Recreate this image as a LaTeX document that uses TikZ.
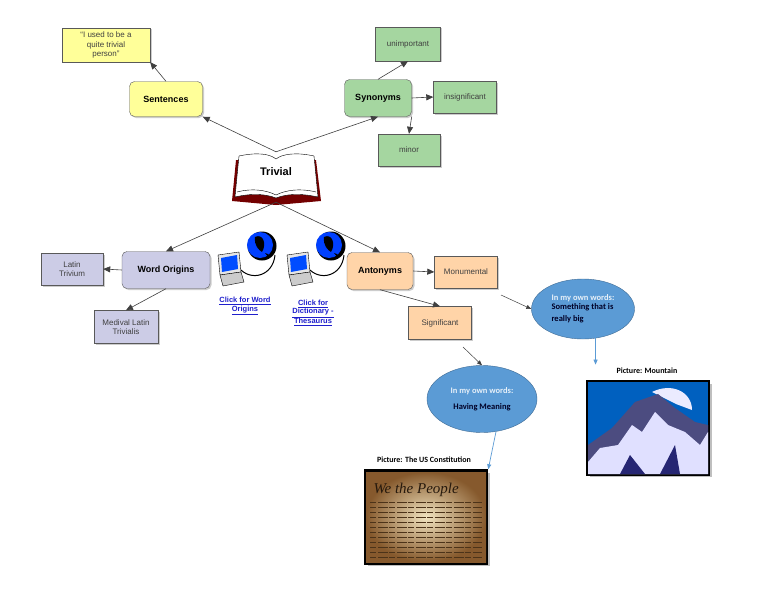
\documentclass[tikz,border=0pt]{standalone}
\usepackage{fontspec}
\setmainfont{Liberation Sans}
\newfontfamily\carl{Carlito}
\newfontfamily\serifit{Liberation Serif}
\usetikzlibrary{shapes.geometric,arrows.meta,shadows}
\definecolor{yel}{HTML}{FFFF99}
\definecolor{grn}{HTML}{A5D6A0}
\definecolor{pur}{HTML}{CCCCE6}
\definecolor{ora}{HTML}{FFD4A8}
\definecolor{ell}{HTML}{5B9BD5}
\definecolor{lnk}{HTML}{1F1FCC}
\begin{document}
\begin{tikzpicture}[x=1pt,y=-1pt,
 box/.style={draw=gray!70!black,fill=#1,drop shadow={shadow xshift=1.5pt,shadow yshift=-1.5pt,opacity=.4},font=\fontsize{8}{9.5}\selectfont,text=black!75,align=center,inner sep=2pt},
 main/.style={box=#1,rounded corners=5pt,font=\bfseries\fontsize{9}{10.5}\selectfont,text=black},
 arr/.style={draw=gray!50!black,-{Triangle[length=7pt,width=6pt]},line width=0.6pt},
 barr/.style={draw=ell,-{Triangle[length=5pt,width=4pt]},line width=0.7pt},
 oval/.style={ellipse,fill=ell,draw=ell!70!black,inner sep=0pt},
 lk/.style={font=\bfseries\fontsize{7.5}{8.5}\selectfont,text=lnk,align=center,inner sep=1pt}]
\useasboundingbox (0,0) rectangle (768,594);
\fill[white] (0,0) rectangle (768,594);
% nodes
\node[box=yel,minimum width=88pt,minimum height=34pt] (q) at (106,45) {``I used to be a\\quite trivial\\person''};
\node[main=yel,minimum width=73pt,minimum height=35pt] (sen) at (166,99) {Sentences};
\node[main=grn,minimum width=67pt,minimum height=37pt] (syn) at (378,98) {Synonyms};
\node[box=grn,minimum width=65pt,minimum height=34pt] (uni) at (408,44) {unimportant};
\node[box=grn,minimum width=63pt,minimum height=32pt] (ins) at (465,97) {insignificant};
\node[box=grn,minimum width=62pt,minimum height=32pt] (min) at (409,150) {minor};
% book
\node[minimum width=88pt,minimum height=50pt] (tr) at (276,177) {};
\begin{scope}
\fill[red!45!black] (232,201) -- (236,160) -- (276,163) -- (316,160) -- (321,201) -- (276,205) -- cycle;
\draw[fill=white] (235,197) -- (239,156) .. controls (258,152) and (270,154) .. (276,159) .. controls (282,154) and (296,152) .. (314,156) -- (318,197) .. controls (300,193) and (286,194) .. (276,198) .. controls (266,194) and (252,193) .. (235,197) -- cycle;
\draw (237,192) .. controls (252,188) and (266,190) .. (276,195) .. controls (286,190) and (300,188) .. (316,192);
\end{scope}
\node[font=\bfseries\fontsize{11}{12}\selectfont] at (276,172) {Trivial};
\node[main=pur,minimum width=88pt,minimum height=37pt] (wo) at (166,270) {Word Origins};
\node[box=pur,minimum width=62pt,minimum height=32pt] (lt) at (72,269) {Latin\\Trivium};
\node[box=pur,minimum width=64pt,minimum height=33pt] (ml) at (126,327) {Medival Latin\\Trivialis};
\node[main=ora,minimum width=66pt,minimum height=37pt] (ant) at (380,271) {Antonyms};
\node[box=ora,minimum width=63pt,minimum height=32pt] (mon) at (466,272) {Monumental};
\node[box=ora,minimum width=63pt,minimum height=33pt] (sig) at (440,323) {Significant};
% icons
\foreach \cx in {245,314}{
 \begin{scope}[shift={(\cx,0)}]
 \draw[black,line width=1pt] (-6,268) .. controls (6,282) and (28,276) .. (30,255);
 \fill[black] (17,246) circle (14.5);
 \fill[blue!75!cyan] (15,245) circle (13);
 \fill[black] (10,237) .. controls (18,233) and (22,244) .. (17,252) .. controls (14,250) and (9,246) .. (10,237);
 \fill[black] (20,253) .. controls (24,254) and (26,256) .. (24,258) -- cycle;
 \draw[fill=gray!20] (-27,255) -- (-6,252) -- (-4,272) -- (-25,275) -- cycle;
 \fill[blue!70!cyan] (-24,258) -- (-8,255) -- (-7,269) -- (-23,272) -- cycle;
 \draw[fill=gray!40] (-25,275) -- (-4,272) -- (-1,282) -- (-22,286) -- cycle;
 \end{scope}}
\node[lk] (l1) at (245,306) {\underline{Click for Word}\\\underline{Origins}};
\node[lk] (l2) at (313,313) {\underline{Click for}\\\underline{Dictionary -}\\\underline{Thesaurus}};
% ellipses
\node[oval,minimum width=103pt,minimum height=60pt,font=\carl\bfseries\fontsize{8.5}{10}\selectfont,align=left] (e1) at (583,309) {\textcolor{white!85!ell}{In my own words:}\\[-1pt]\textcolor{black!85!blue}{Something that is}\\[2pt]\textcolor{black!85!blue}{really big}};
\node[oval,minimum width=110pt,minimum height=67pt,font=\carl\bfseries\fontsize{8.5}{10}\selectfont,align=center] (e2) at (482,399) {\textcolor{white!85!ell}{In my own words:}\\[6pt]\textcolor{black!85!blue}{Having Meaning}};
% pictures
\node[font=\carl\bfseries\fontsize{8}{9}\selectfont] (pm) at (647,371) {Picture: Mountain};
\node[draw=black,line width=2.5pt,minimum width=122pt,minimum height=93pt,inner sep=0pt,drop shadow] (mt) at (648,428) {};
\begin{scope}
\clip (588,382) rectangle (708,474);
\fill[blue!50!cyan!75!black] (588,382) rectangle (708,474);
\fill[white!92!blue] (652,392) .. controls (672,382) and (692,392) .. (692,410) -- (676,404) -- cycle;
\fill[gray!75!blue!80!black] (588,445) -- (612,428) -- (635,402) -- (658,394) -- (675,408) -- (695,422) -- (708,425) -- (708,474) -- (588,474) -- cycle;
\fill[white!88!blue] (588,462) -- (600,448) -- (618,445) -- (632,425) -- (642,432) -- (655,412) -- (668,425) -- (685,432) -- (700,445) -- (708,432) -- (708,474) -- (588,474) -- cycle;
\fill[gray!50!blue!60!black] (620,474) -- (630,455) -- (645,474) -- cycle;
\fill[gray!50!blue!60!black] (660,474) -- (675,445) -- (680,474) -- cycle;
\end{scope}
\node[font=\carl\bfseries\fontsize{8}{9}\selectfont] (pc) at (424,460) {Picture: The US Constitution};
\node[draw=black,line width=2.5pt,minimum width=122pt,minimum height=93pt,inner sep=0pt,drop shadow,fill=brown!40!yellow!60!white] (cs) at (426,517) {};
\begin{scope}
\clip (366,472) rectangle (486,562);
\shade[inner color=yellow!30!brown!30,outer color=brown!70!black] (366,472) rectangle (486,562);
\node[font=\serifit\itshape\fontsize{15}{15}\selectfont,text=black!80!brown,anchor=west] at (370,490) {We the People};
\foreach \yy in {502,507,...,558}{\draw[black!60!brown,line width=0.4pt,dash pattern=on 6pt off 2pt on 10pt off 1pt] (370,\yy) -- (482,\yy);}
\end{scope}
% connectors
\draw[arr] (sen.north) -- (q.south east);
\draw[arr] (tr.north) -- (sen.south east);
\draw[arr] (tr.north) -- (syn.south);
\draw[arr] (syn.north) -- (uni.south);
\draw[arr] (syn.east) -- (ins.west);
\draw[arr] (syn.south east) -- (min.north);
\draw[arr] (tr.south) -- (wo.north);
\draw[arr] (tr.south) -- (ant.north);
\draw[arr] (wo.west) -- (lt.east);
\draw[arr] (wo.south) -- (ml.north);
\draw[arr] (ant.east) -- (mon.west);
\draw[arr] (ant.south) -- (sig.north);
\coordinate (s1) at (463,347);
\coordinate (m1) at (501,295);
\draw[arr,line width=0.5pt,-{Triangle[length=5pt,width=4pt]}] (s1) -- (e2.north);
\draw[arr,line width=0.5pt,-{Triangle[length=5pt,width=4pt]}] (m1) -- (e1.west);
\draw[barr] (e1.south east) ++(-24,-2) coordinate (a1) -- (pm.north -| a1);
\draw[barr] (e2.south) ++(14,-1) coordinate (a2) -- (cs.north east);
\end{tikzpicture}
\end{document}
